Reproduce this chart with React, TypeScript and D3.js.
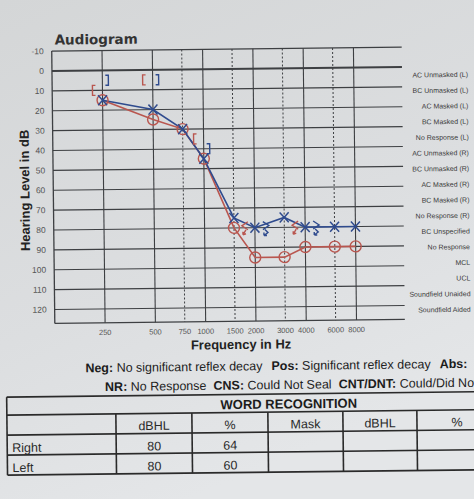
import * as d3 from 'd3';

// audiogram values
const FREQ_TICKS = [250, 500, 750, 1000, 1500, 2000, 3000, 4000, 6000, 8000];
const DOTTED_FREQS = [750, 1500, 3000, 6000];
const SOLID_FREQS = [250, 500, 1000, 2000, 4000, 8000];
const DB_TICKS = [-10, 0, 10, 20, 30, 40, 50, 60, 70, 80, 90, 100, 110, 120];

const AC_FREQS = [250, 500, 750, 1000, 1500, 2000, 3000, 4000, 6000, 8000];
const RIGHT_AC = [15, 25, 30, 45, 80, 95, 95, 90, 90, 90];
const LEFT_AC = [15, 20, 30, 45, 75, 80, 75, 80, 80, 80];

const BC_FREQS = [250, 500, 1000];
const RIGHT_BC_MASKED = [10, 5, 35];
const LEFT_BC_MASKED = [5, 5, 40];

const NR_FREQS = [2000, 4000];
const RIGHT_BC_NR = [80, 80];
const LEFT_BC_NR = [80, 80];

const LEGEND_LABELS = [
  'AC Unmasked (L)', 'BC Unmasked (L)', 'AC Masked (L)', 'BC Masked (L)', 'No Response (L)',
  'AC Unmasked (R)', 'BC Unmasked (R)', 'AC Masked (R)', 'BC Masked (R)', 'No Response (R)',
  'BC Unspecified', 'No Response', 'MCL', 'UCL', 'Soundfield Unaided', 'Soundfield Aided',
];

const NOTE_LINE_1: [string, boolean][] = [
  ['Neg:', true], [' No significant reflex decay', false],
  ['Pos:', true], [' Significant reflex decay', false], ['Abs:', true],
];
const NOTE_LINE_2: [string, boolean][] = [
  ['NR:', true], [' No Response', false], ['CNS:', true], [' Could Not Seal', false],
  ['CNT/DNT:', true], [' Could/Did Not Test', false],
];

const TABLE_HEAD = ['', 'dBHL', '%', 'Mask', 'dBHL', '%'];
const TABLE_ROWS = [
  ['Right', '80', '64', '', '', ''],
  ['Left', '80', '60', '', '', ''],
];

const W = 474;
const H = 499;
const RED = '#b9564f';
const BLUE = '#2f4b8e';
const GRID = '#3d3f42';
const SANS = '"Liberation Sans", Arial, sans-serif';
const DEJA = '"DejaVu Sans", Verdana, sans-serif';

export default function App() {
  const x = d3.scaleLog().domain([125, 16000]).range([54, 406]);
  const y = d3.scaleLinear().domain([-10, 127]).range([49, 321.3]);

  const acLine = d3.line<number>()
    .x((_, i) => x(AC_FREQS[i]))
    .y(d => y(d));

  const legendY = d3.scalePoint<string>().domain(LEGEND_LABELS).range([77, 312]);

  // table geometry
  const colX = [5, 114, 190, 266, 341, 415, 495];
  const rowY = [394.5, 412.5, 432.5, 452.5, 472.5];

  const bracket = (cx: number, cy: number, dir: number) =>
    `M${cx + dir * 3},${cy - 5} L${cx},${cy - 5} L${cx},${cy + 5} L${cx + dir * 3},${cy + 5}`;

  return (
    <svg width={W} height={H} style={{ position: 'absolute', left: 0, top: 0 }}>
      <defs>
        <linearGradient id="paper" x1="0" y1="0" x2="0.4" y2="1">
          <stop offset="0" stopColor="#d4d6d7" />
          <stop offset="0.6" stopColor="#dcdee0" />
          <stop offset="1" stopColor="#e4e6e8" />
        </linearGradient>
      </defs>
      <rect width={W} height={H} fill="url(#paper)" />

      <g transform="rotate(-0.65 237 250)">
        <text x={57} y={42.5} fontFamily={DEJA} fontWeight="bold" fontSize={13.5} fill="#333">Audiogram</text>

        {/* horizontal grid */}
        {DB_TICKS.map(d => (
          <line key={d} x1={x(125)} x2={404} y1={y(d)} y2={y(d)}
            stroke={GRID} strokeWidth={d === 0 ? 2 : 1.1} />
        ))}
        <line x1={x(125)} x2={404} y1={y(127)} y2={y(127)} stroke={GRID} strokeWidth={1.3} />
        <line x1={x(125)} x2={x(125)} y1={y(-10)} y2={y(127)} stroke={GRID} strokeWidth={1.3} />

        {/* vertical grid */}
        {SOLID_FREQS.map(f => (
          <line key={f} x1={x(f)} x2={x(f)} y1={y(-10)} y2={y(127)} stroke={GRID} strokeWidth={1.1} />
        ))}
        {DOTTED_FREQS.map(f => (
          <line key={f} x1={x(f)} x2={x(f)} y1={y(-10)} y2={y(127)} stroke={GRID}
            strokeWidth={1} strokeDasharray="2,2" />
        ))}

        {/* tick labels */}
        {DB_TICKS.map(d => (
          <text key={d} x={46} y={y(d)} dy="0.35em" textAnchor="end"
            fontFamily={SANS} fontSize={8.5} fill="#555">{d}</text>
        ))}
        {FREQ_TICKS.map(f => (
          <text key={f} x={x(f)} y={333.5} textAnchor="middle"
            fontFamily={SANS} fontSize={7.5} fill="#555">{f}</text>
        ))}

        <text x={240} y={349} textAnchor="middle" fontFamily={SANS} fontWeight="bold"
          fontSize={13} fill="#222">Frequency in Hz</text>
        <text transform="translate(30,188) rotate(-90)" textAnchor="middle" fontFamily={SANS}
          fontWeight="bold" fontSize={13} fill="#222">Hearing Level in dB</text>

        {/* legend */}
        {LEGEND_LABELS.map(l => (
          <text key={l} x={470} y={legendY(l)} dy="0.35em" textAnchor="end"
            fontFamily={SANS} fontSize={7} fill="#3a3a3a">{l}</text>
        ))}

        {/* air conduction lines */}
        <path d={acLine(RIGHT_AC) || ''} fill="none" stroke={RED} strokeWidth={1.6} />
        <path d={acLine(LEFT_AC) || ''} fill="none" stroke={BLUE} strokeWidth={1.6} />

        {RIGHT_AC.map((d, i) => (
          <circle key={i} cx={x(AC_FREQS[i])} cy={y(d)} r={5.5} fill="none" stroke={RED} strokeWidth={1.4} />
        ))}
        {LEFT_AC.map((d, i) => {
          const cx = x(AC_FREQS[i]);
          const cy = y(d);
          return (
            <path key={i} d={`M${cx - 4.5},${cy - 5} L${cx + 4.5},${cy + 5} M${cx + 4.5},${cy - 5} L${cx - 4.5},${cy + 5}`}
              stroke={BLUE} strokeWidth={1.5} fill="none" />
          );
        })}

        {/* masked bone conduction */}
        {RIGHT_BC_MASKED.map((d, i) => (
          <path key={i} d={bracket(x(BC_FREQS[i]) - 10, y(d), 1)} fill="none" stroke={RED} strokeWidth={1.4} />
        ))}
        {LEFT_BC_MASKED.map((d, i) => (
          <path key={i} d={bracket(x(BC_FREQS[i]) + 6, y(d), -1)} fill="none" stroke={BLUE} strokeWidth={1.4} />
        ))}

        {/* unmasked bone conduction, no response */}
        {RIGHT_BC_NR.map((d, i) => {
          const cx = x(NR_FREQS[i]) - 10;
          const cy = y(d) - 2;
          return (
            <g key={i} stroke={RED} strokeWidth={1.4} fill="none">
              <path d={`M${cx + 3},${cy - 4} L${cx - 3},${cy} L${cx + 3},${cy + 4}`} />
              <path d={`M${cx + 1},${cy + 4} L${cx - 2},${cy + 9} M${cx - 2},${cy + 9} L${cx - 2},${cy + 6} M${cx - 2},${cy + 9} L${cx + 1},${cy + 8}`} />
            </g>
          );
        })}
        {LEFT_BC_NR.map((d, i) => {
          const cx = x(NR_FREQS[i]) + 11;
          const cy = y(d) - 2;
          return (
            <g key={i} stroke={BLUE} strokeWidth={1.4} fill="none">
              <path d={`M${cx - 3},${cy - 4} L${cx + 3},${cy} L${cx - 3},${cy + 4}`} />
              <path d={`M${cx - 1},${cy + 4} L${cx + 2},${cy + 7} L${cx - 2},${cy + 10} M${cx - 2},${cy + 10} L${cx - 2},${cy + 7} M${cx - 2},${cy + 10} L${cx + 1},${cy + 10}`} />
            </g>
          );
        })}

        {/* notes */}
        <text x={84} y={370.5} fontFamily={SANS} fontSize={12.5} fill="#1c1c1c" style={{ whiteSpace: 'pre' }}>
          {NOTE_LINE_1.map(([t, b], i) => (
            <tspan key={i} dx={b && i > 0 ? 9 : 0} fontWeight={b ? 'bold' : 'normal'}>{t}</tspan>
          ))}
        </text>
        <text x={103.5} y={389.5} fontFamily={SANS} fontSize={12.5} fill="#1c1c1c" style={{ whiteSpace: 'pre' }}>
          {NOTE_LINE_2.map(([t, b], i) => (
            <tspan key={i} dx={b && i > 0 ? 7 : 0} fontWeight={b ? 'bold' : 'normal'}>{t}</tspan>
          ))}
        </text>

        {/* word recognition table */}
        <g stroke="#2a2a2a" strokeWidth={1.6} fill="none">
          {rowY.map((ry, i) => (
            <line key={i} x1={colX[0]} x2={530} y1={ry} y2={ry} />
          ))}
          <line x1={colX[0]} x2={colX[0]} y1={rowY[0]} y2={rowY[4]} />
          {colX.slice(1, -1).map((cx, i) => (
            <line key={i} x1={cx} x2={cx} y1={rowY[1]} y2={rowY[4]} />
          ))}
        </g>
        <text x={287} y={409} textAnchor="middle" fontFamily={SANS} fontWeight="bold" fontSize={13} fill="#1c1c1c">
          WORD RECOGNITION
        </text>
        {TABLE_HEAD.map((h, i) => (
          <text key={i} x={(colX[i] + colX[i + 1]) / 2} y={rowY[2] - 3.5} textAnchor="middle"
            fontFamily={SANS} fontSize={12.5} fill="#2a2a2a">{h}</text>
        ))}
        {TABLE_ROWS.map((row, r) => row.map((c, i) => (
          <text key={`${r}-${i}`} x={i === 0 ? colX[0] + 5 : (colX[i] + colX[i + 1]) / 2}
            y={rowY[r + 3] - 3} textAnchor={i === 0 ? 'start' : 'middle'}
            fontFamily={SANS} fontSize={12.5} fill="#2a2a2a">{c}</text>
        )))}
      </g>
    </svg>
  );
}
